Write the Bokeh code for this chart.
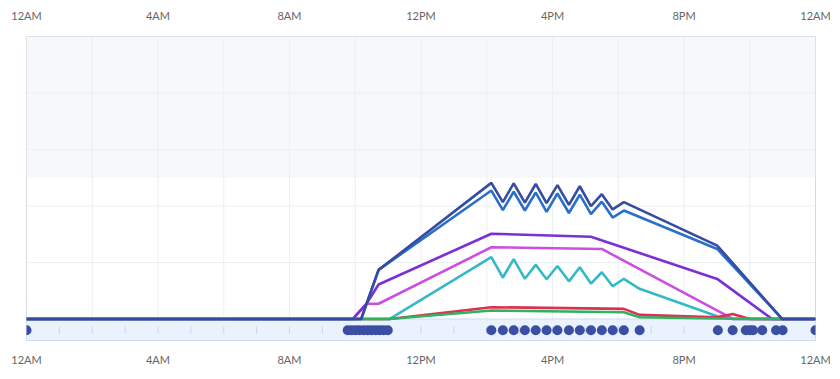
from bokeh.plotting import figure
from bokeh.models import LinearAxis, FixedTicker, Range1d
from bokeh.embed import file_html
from bokeh.resources import INLINE

# ---- axis / grid data ----
tick_hours = [0, 4, 8, 12, 16, 20, 24]
tick_labels = ["12AM", "4AM", "8AM", "12PM", "4PM", "8PM", "12AM"]
grid_hours = [2, 4, 6, 8, 10, 12, 14, 16, 18, 20, 22]
strip_tick_hours = list(range(1, 24))
grid_levels = [10, 20, 30, 40]
band_low, band_high = 25, 50

# ---- series data (hours of day, values) ----
zig_t = [14.14, 14.49, 14.82, 15.16, 15.49, 15.82, 16.15, 16.50, 16.83, 17.17, 17.50, 17.83, 18.17]

navy_t = [0, 10.18, 10.71] + zig_t + [21.01, 22.99, 24]
navy_v = [0, 0, 8.7, 24.1, 20.7, 24.0, 20.6, 23.9, 20.5, 23.7, 20.2, 23.5, 20.0, 22.1, 19.4, 20.7, 13.0, 0, 0]

blue_t = [0, 10.18, 10.71] + zig_t + [21.01, 22.99, 24]
blue_v = [0, 0, 8.7, 22.74, 19.26, 22.53, 19.2, 22.39, 18.97, 22.21, 18.76, 22.0, 18.55, 20.76, 17.96, 19.2, 12.4, 0, 0]

purple_t = [0, 9.92, 10.34, 10.71, 14.14, 17.17, 21.01, 22.68, 24]
purple_v = [0, 0, 2.7, 6.1, 15.1, 14.55, 7.1, 0, 0]

magenta_t = [0, 9.92, 10.34, 10.71, 14.14, 17.50, 21.50, 24]
magenta_v = [0, 0, 2.7, 2.7, 12.7, 12.4, 0, 0]

cyan_t = [0, 11.04] + zig_t + [18.65, 21.01, 21.48, 24]
cyan_v = [0, 0, 10.94, 7.35, 10.6, 7.12, 9.59, 7.04, 9.38, 6.67, 9.17, 6.28, 8.28, 5.79, 7.12, 5.35, 0.5, 0, 0]

red_t = [0, 11.04, 14.14, 18.17, 18.65, 21.01, 21.48, 22.0, 24]
red_v = [0, 0, 2.09, 1.8, 0.74, 0.32, 0.88, 0, 0]

green_t = [0, 11.04, 14.14, 18.17, 18.65, 21.01, 22.99, 24]
green_v = [0, 0, 1.5, 1.2, 0.32, 0.1, 0, 0]

dot_t = ([0, 9.77, 9.89, 10.01, 10.13, 10.26, 10.38, 10.5, 10.62, 10.74, 10.86, 10.99]
         + zig_t + [18.65, 21.03, 21.48, 21.88, 22.0, 22.1, 22.38, 22.8, 23.0, 24])
dot_level = -2.0
strip_low = -3.8

p = figure(width=831, height=368, output_backend="svg", toolbar_location=None,
           x_range=Range1d(0, 24), y_range=Range1d(strip_low, 50),
           x_axis_location="below", y_axis_location=None,
           min_border_left=26, min_border_right=16, min_border_top=36, min_border_bottom=28)
p.grid.visible = False
p.outline_line_color = "#d3dae2"
p.background_fill_color = "white"
p.border_fill_color = "white"

# shaded upper band
p.quad(left=[0], right=[24], bottom=[band_low], top=[band_high], fill_color="#f7f8fa", line_color=None)
# grid lines
p.segment(x0=grid_hours, x1=grid_hours, y0=[0] * len(grid_hours), y1=[50] * len(grid_hours),
          line_color="#eceff3", line_width=1)
p.segment(x0=[0] * len(grid_levels), x1=[24] * len(grid_levels), y0=grid_levels, y1=grid_levels,
          line_color="#eceff3", line_width=1)
# timeline strip
p.quad(left=[0], right=[24], bottom=[strip_low], top=[0], fill_color="#eaf2fd", line_color="#cadcf0", line_width=1)
p.segment(x0=strip_tick_hours, x1=strip_tick_hours, y0=[-1.3] * len(strip_tick_hours),
          y1=[-2.6] * len(strip_tick_hours), line_color="#c2d9ef", line_width=1)

lw = 2.6
p.line(magenta_t, magenta_v, line_color="#cc50e0", line_width=lw)
p.line(purple_t, purple_v, line_color="#7b2fd7", line_width=lw)
p.line(cyan_t, cyan_v, line_color="#36b9c7", line_width=lw)
p.line(red_t, red_v, line_color="#dc2f52", line_width=lw)
p.line(green_t, green_v, line_color="#2eb45c", line_width=lw)
p.line(blue_t, blue_v, line_color="#2a6fca", line_width=lw)
p.line(navy_t, navy_v, line_color="#354ca0", line_width=lw)

p.scatter(dot_t, [dot_level] * len(dot_t), size=10, fill_color="#3a4fa3", line_color=None)

overrides = {h: l for h, l in zip(tick_hours, tick_labels)}

def style_axis(ax, standoff):
    ax.ticker = FixedTicker(ticks=tick_hours)
    ax.major_label_overrides = overrides
    ax.axis_line_color = None
    ax.major_tick_line_color = None
    ax.minor_tick_line_color = None
    ax.major_label_text_font = "Lato"
    ax.major_label_text_font_size = "11px"
    ax.major_label_text_color = "#666666"
    ax.major_label_standoff = standoff

style_axis(p.xaxis[0], 6)
top_axis = LinearAxis()
style_axis(top_axis, 9)
p.add_layout(top_axis, "above")

open("out.html", "w").write(file_html(p, INLINE))
